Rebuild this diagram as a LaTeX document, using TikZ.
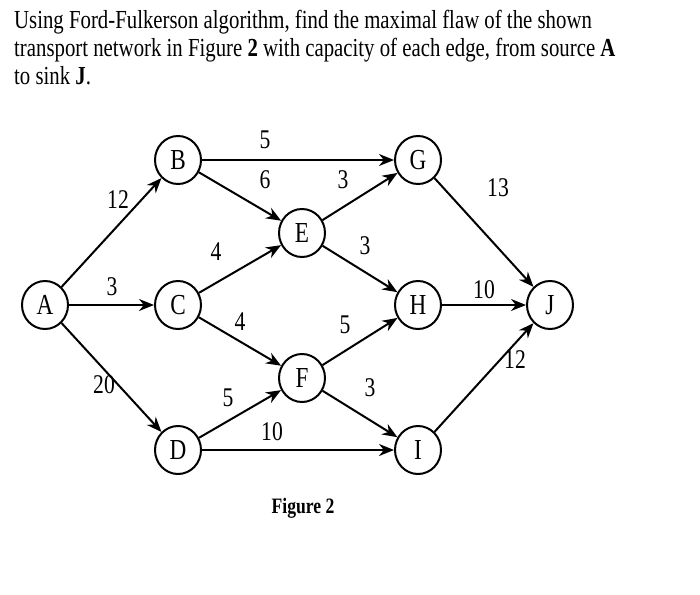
\documentclass[tikz,border=0pt]{standalone}
\usepackage{fontspec}
\setmainfont{Liberation Serif}[FakeStretch=0.8]
\usetikzlibrary{arrows.meta,shapes.geometric}
\begin{document}
\begin{tikzpicture}[x=1pt,y=-1pt,
  v/.style={ellipse,draw,line width=2pt,minimum width=46pt,minimum height=48pt,inner sep=0pt,font=\fontsize{29}{29}\selectfont},
  e/.style={-{Stealth[length=15pt,width=12pt]},line width=2pt},
  l/.style={font=\fontsize{27}{27}\selectfont}]
\useasboundingbox (0,0) rectangle (700,594);
\node[anchor=north west,align=left,inner sep=0pt,font=\fontsize{26}{28}\selectfont] (q) at (14,10)
 {Using Ford-Fulkerson algorithm, find the maximal flaw of the shown\\ transport network in Figure \textbf{2} with capacity of each edge, from source \textbf{A}\\ to sink \textbf{J}.};
\node[v] (A) at (45,305) {A};
\node[v] (B) at (178,160) {B};
\node[v] (C) at (178,305) {C};
\node[v] (D) at (178,450) {D};
\node[v] (E) at (302,233) {E};
\node[v] (F) at (302,378) {F};
\node[v] (G) at (418,160) {G};
\node[v] (H) at (418,305) {H};
\node[v] (I) at (418,450) {I};
\node[v] (J) at (550,305) {J};
\draw[e] (A) -- (B);
\draw[e] (A) -- (C);
\draw[e] (A) -- (D);
\draw[e] (B) -- (G);
\draw[e] (B) -- (E);
\draw[e] (C) -- (E);
\draw[e] (C) -- (F);
\draw[e] (D) -- (F);
\draw[e] (D) -- (I);
\draw[e] (E) -- (G);
\draw[e] (E) -- (H);
\draw[e] (F) -- (H);
\draw[e] (F) -- (I);
\draw[e] (G) -- (J);
\draw[e] (H) -- (J);
\draw[e] (I) -- (J);
\node[l] (l1) at (265,140) {5};
\node[l] (l2) at (265,180) {6};
\node[l] (l3) at (343,180) {3};
\node[l] (l4) at (118,200) {12};
\node[l] (l5) at (498,188) {13};
\node[l] (l6) at (216,252) {4};
\node[l] (l7) at (365,246) {3};
\node[l] (l8) at (112,287) {3};
\node[l] (l9) at (240,322) {4};
\node[l] (l10) at (345,325) {5};
\node[l] (l11) at (484,290) {10};
\node[l] (l12) at (515,360) {12};
\node[l] (l13) at (104,385) {20};
\node[l] (l14) at (228,398) {5};
\node[l] (l15) at (370,388) {3};
\node[l] (l16) at (272,432) {10};
\node[font=\fontsize{22}{22}\selectfont\bfseries] (cap) at (303,508) {Figure 2};
\end{tikzpicture}
\end{document}
